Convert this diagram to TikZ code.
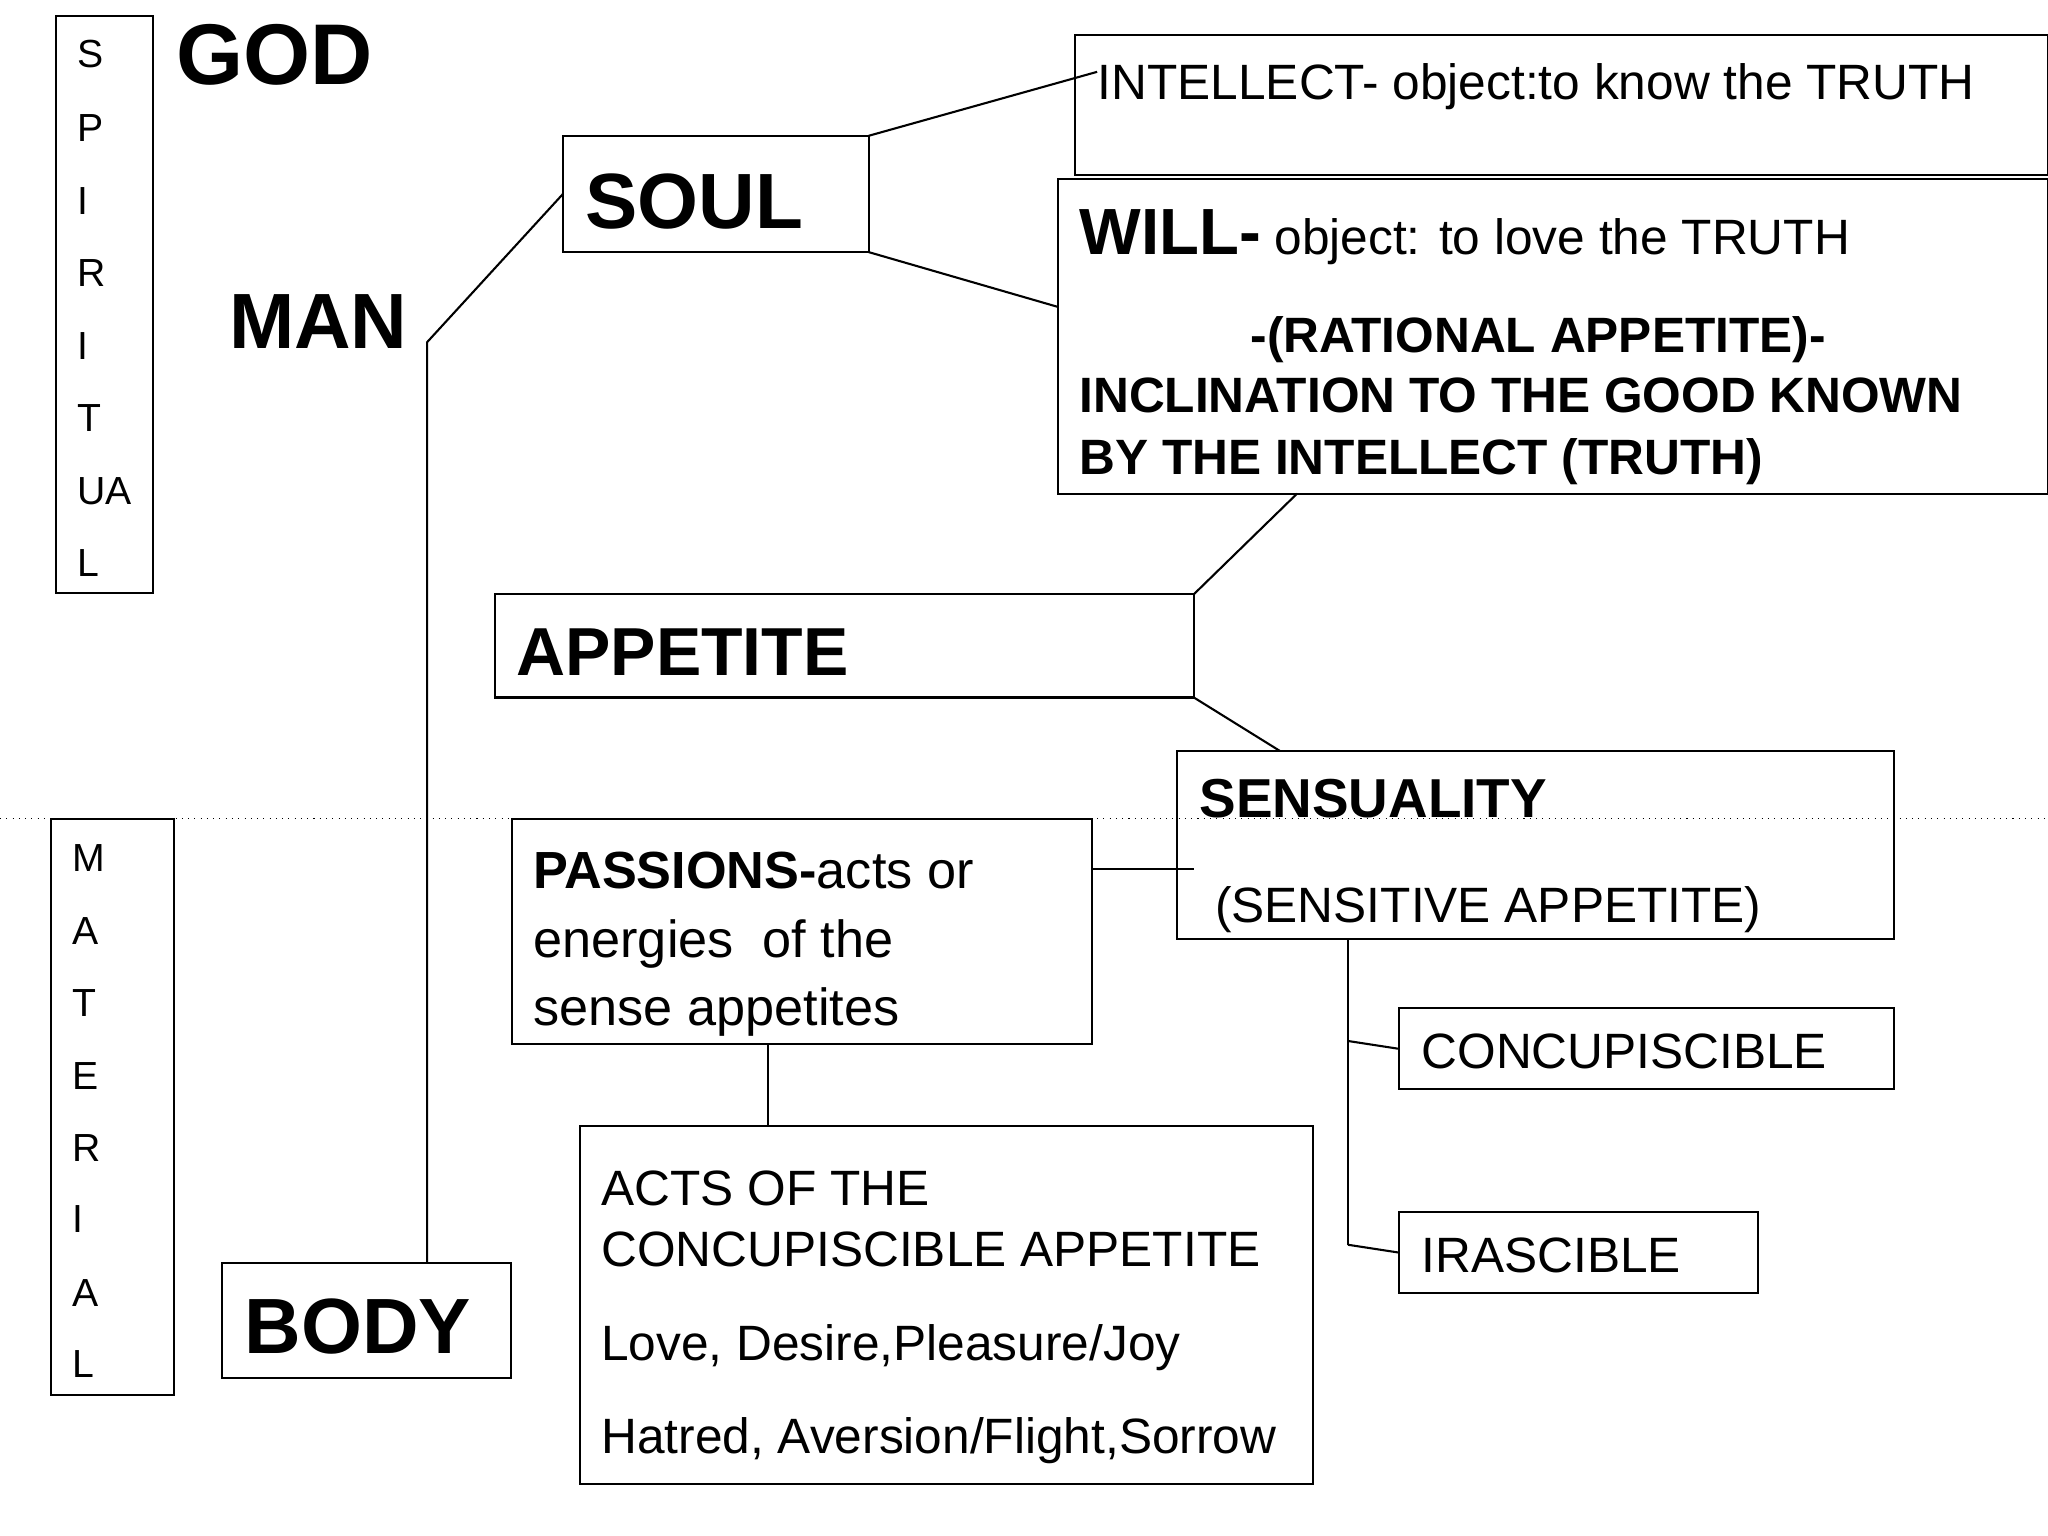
\documentclass[tikz,border=0pt]{standalone}
\usepackage{fontspec}
\setmainfont{Liberation Sans}
\begin{document}
\begin{tikzpicture}[x=0.5pt,y=-0.5pt,
  box/.style={draw,line width=0.8pt,anchor=north west,inner sep=0pt,outer sep=0pt},
  t/.style={anchor=base west,inner sep=0pt},
  ln/.style={line width=0.8pt}]
\useasboundingbox (0,0) rectangle (1568,1176);
\newcommand\bx[5]{\node[box,minimum width=#4*0.5pt,minimum height=#5*0.5pt] (#1) at (#2,#3) {};}
\bx{spir}{43}{12}{74}{442}
\bx{mat}{39}{627}{94}{441}
\bx{soul}{431}{104}{234}{89}
\bx{intel}{823}{27}{745}{107}
\bx{will}{810}{137}{758}{241}
\bx{app}{379}{455}{535}{79}
\bx{sens}{901}{575}{549}{144}
\bx{pass}{392}{627}{444}{172}
\bx{acts}{444}{862}{561}{274}
\bx{conc}{1071}{772}{379}{62}
\bx{iras}{1071}{928}{275}{62}
\bx{body}{170}{967}{221}{88}
\draw[dotted] (0,627) -- (1568,627);
% side letters
\foreach \l/\y [count=\i] in {S/52,P/108,I/164,R/219,I/275,T/330,UA/386,L/441}
  \node[t,font=\fontsize{15}{15}\selectfont] (s\i) at (59,\y) {\l};
\foreach \l/\y [count=\i] in {M/667,A/723,T/778,E/834,R/889,I/944,A/1000,L/1055}
  \node[t,font=\fontsize{15}{15}\selectfont] (m\i) at (55,\y) {\l};
\node[t,font=\fontsize{33}{33}\selectfont\bfseries] (god) at (135,65) {GOD};
\node[t,font=\fontsize{30}{30}\selectfont\bfseries] (man) at (175,267) {MAN};
\node[t,font=\fontsize{30}{30}\selectfont\bfseries] (soultx) at (448,175) {SOUL};
\node[t,font=\fontsize{30}{30}\selectfont\bfseries] (bodytx) at (187,1036) {BODY};
\node[t,font=\fontsize{19}{19}\selectfont] (inttx) at (840,76) {INTELLECT- object:to know the TRUTH};
\node[t,font=\fontsize{19}{19}\selectfont] (willtx) at (826,195) {{\fontsize{25}{25}\selectfont\bfseries WILL-} object: to love the TRUTH};
\node[t,font=\fontsize{19}{19}\selectfont\bfseries] (r1) at (957,270) {-(RATIONAL APPETITE)-};
\node[t,font=\fontsize{19}{19}\selectfont\bfseries] (r2) at (826,316) {INCLINATION TO THE GOOD KNOWN};
\node[t,font=\fontsize{19}{19}\selectfont\bfseries] (r3) at (826,363) {BY THE INTELLECT (TRUTH)};
\node[t,font=\fontsize{26}{26}\selectfont\bfseries] (apptx) at (395,517) {APPETITE};
\node[t,font=\fontsize{21}{21}\selectfont\bfseries] (senstx) at (918,626) {SENSUALITY};
\node[t,font=\fontsize{19}{19}\selectfont] (senstx2) at (930,706) {(SENSITIVE APPETITE)};
\node[t,font=\fontsize{20}{20}\selectfont] (p1) at (408,680) {\textbf{PASSIONS-}acts or};
\node[t,font=\fontsize{20}{20}\selectfont] (p2) at (408,733) {energies\ \ of the};
\node[t,font=\fontsize{20}{20}\selectfont] (p3) at (408,785) {sense appetites};
\node[t,font=\fontsize{19}{19}\selectfont] (a1) at (460,923) {ACTS OF THE};
\node[t,font=\fontsize{19}{19}\selectfont] (a2) at (460,970) {CONCUPISCIBLE APPETITE};
\node[t,font=\fontsize{19}{19}\selectfont] (a3) at (460,1042) {Love, Desire,Pleasure/Joy};
\node[t,font=\fontsize{19}{19}\selectfont] (a4) at (460,1113) {Hatred, Aversion/Flight,Sorrow};
\node[t,font=\fontsize{19}{19}\selectfont] (ctx) at (1088,818) {CONCUPISCIBLE};
\node[t,font=\fontsize{19}{19}\selectfont] (itx) at (1088,974) {IRASCIBLE};
% connectors
\coordinate (mtop) at (327,262);
\coordinate (ij) at (840,55);
\draw[ln] (soul.west) -- (mtop) -- (body.north west -| mtop);
\draw[ln] (soul.north east) -- (ij);
\draw[ln] (soul.south east) -- (810,235);
\draw[ln] (app.north east) -- (993,378);
\draw[ln] (app.south east) -- (980,575);
\draw[ln] (pass.east |- 0,665) -- (914,665);
\draw[ln] (588,799) -- (588,862);
\draw[ln] (1032,719) -- (1032,953);
\draw[ln] (1032,797) -- (conc.west);
\draw[ln] (1032,953) -- (iras.west);
\end{tikzpicture}
\end{document}
